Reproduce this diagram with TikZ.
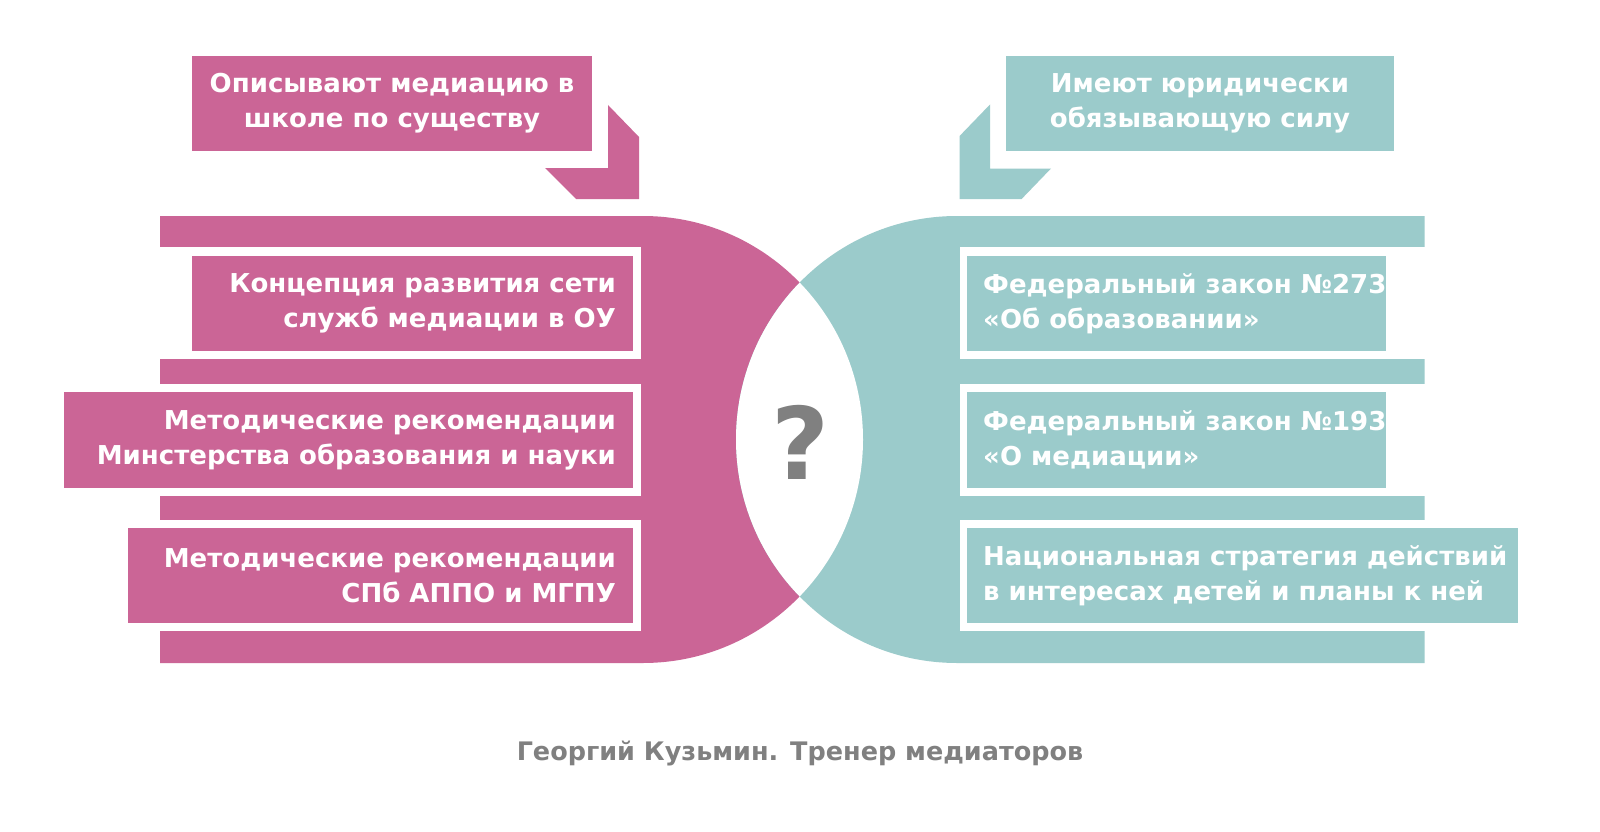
\documentclass[tikz,border=0pt]{standalone}
\usepackage{fontspec}
\setmainfont{DejaVu Sans}
\definecolor{pk}{HTML}{CB6596}
\definecolor{tl}{HTML}{9BCBCB}
\definecolor{gr}{HTML}{808080}
\begin{document}
\begin{tikzpicture}[x=1pt,y=-1pt,
  lbl/.style={text=white,font=\bfseries\fontsize{26}{35}\selectfont,inner sep=0pt},
  band/.style={fill=white}]
\useasboundingbox (0,0) rectangle (1600,832);
\fill[white] (0,0) rectangle (1600,832);
% D shapes
\def\pinkD{(160,216) -- (643,216) arc[start angle=270,end angle=450,x radius=220,y radius=223.5] -- (160,663) -- cycle}
\def\tealD{(1424.5,216) -- (957,216) arc[start angle=270,end angle=90,x radius=221,y radius=223.5] -- (1424.5,663) -- cycle}
\fill[pk] \pinkD;
\fill[tl] \tealD;
\begin{scope}
\clip \pinkD;
\fill[white] \tealD;
\end{scope}
% white bands
\fill[band] (150,247) rectangle (641,359);
\fill[band] (56,384) rectangle (641,496);
\fill[band] (120,520) rectangle (641,631);
\fill[band] (959.6,247) rectangle (1435,359);
\fill[band] (959.6,384) rectangle (1435,496);
\fill[band] (959.6,520) rectangle (1526,631);
% boxes
\fill[pk] (192,256) rectangle (633,351);
\fill[pk] (64,392) rectangle (633,488);
\fill[pk] (128,528) rectangle (633,623);
\fill[tl] (967,256) rectangle (1386,351);
\fill[tl] (967,392) rectangle (1386,488);
\fill[tl] (967,528) rectangle (1517.5,623);
% callouts
\fill[pk] (192,56) rectangle (592,151);
\fill[pk] (608,105) -- (639,137) -- (639,199) -- (576,199) -- (545,168) -- (608,168) -- cycle;
\fill[tl] (1006,56) rectangle (1394,151);
\fill[tl] (990,104.5) -- (959.6,136) -- (959.6,199) -- (1021.6,199) -- (1051,168.5) -- (990,168.5) -- cycle;
% texts
\node[lbl,align=center] (c1) at (392,103.5) {Описывают медиацию в\\школе по существу};
\node[lbl,align=center] (c2) at (1200,103.5) {Имеют юридически\\обязывающую силу};
\node[lbl,align=right,anchor=east] (l1) at (616,303.5) {Концепция развития сети\\служб медиации в ОУ};
\node[lbl,align=right,anchor=east] (l2) at (616,440) {Методические рекомендации\\Минстерства образования и науки};
\node[lbl,align=right,anchor=east] (l3) at (616,575.5) {Методические рекомендации\\СПб АППО и МГПУ};
\node[lbl,align=left,anchor=west] (r1) at (983,303.5) {Федеральный закон №273\\«Об образовании»};
\node[lbl,align=left,anchor=west] (r2) at (983,440) {Федеральный закон №193\\«О медиации»};
\node[lbl,align=left,anchor=west] (r3) at (983,575.5) {Национальная стратегия действий\\в интересах детей и планы к ней};
\node[text=gr,font=\bfseries\fontsize{100}{100}\selectfont,inner sep=0pt] (q) at (800,442) {?};
\node[text=gr,font=\bfseries\fontsize{25.5}{30}\selectfont,inner sep=0pt] (f) at (800,753) {Георгий Кузьмин. Тренер медиаторов};
\end{tikzpicture}
\end{document}
